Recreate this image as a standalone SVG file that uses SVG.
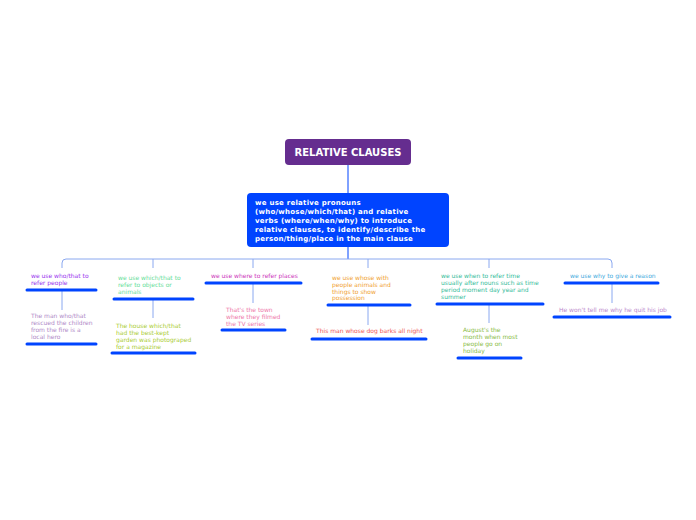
<svg xmlns="http://www.w3.org/2000/svg" width="696" height="520" viewBox="0 0 696 520">
<style>
text{font-family:"DejaVu Sans",Verdana,sans-serif;font-size:6px}
.u{stroke:#0044ff;stroke-width:3;stroke-linecap:round}
.c{fill:none;stroke:#8aa8f0;stroke-width:1}
</style>
<rect width="696" height="520" fill="#fff"/>
<g id="connectors">
<line x1="348" y1="165" x2="348" y2="193" stroke="#0044ff" stroke-width="1"/>
<line x1="348" y1="247" x2="348" y2="259" stroke="#0044ff" stroke-width="1"/>
<path class="c" d="M62 268V263Q62 259 66 259H608Q612 259 612 263V268M153 268V259M253 268V259M368 268V259M489 268V259"/>
<path class="c" d="M62 291V310M153 299V318M253 284V303M368 306V325M489 304V323M612 284V303"/>
</g>
<g id="root"><rect x="285" y="139" width="126" height="26" rx="4" fill="#652d8f"/><text x="348" y="156" text-anchor="middle" fill="#fff" style="font-size:10px;font-weight:bold">RELATIVE CLAUSES</text></g>
<g id="main"><rect x="247" y="193" width="202" height="54" rx="4" fill="#0044ff"/>
<text fill="#fff" style="font-weight:bold;font-size:7px;letter-spacing:0.25px"><tspan x="255" y="205">we use relative pronouns</tspan><tspan x="255" y="214">(who/whose/which/that) and relative</tspan><tspan x="255" y="223">verbs (where/when/why) to introduce</tspan><tspan x="255" y="232">relative clauses, to identify/describe the</tspan><tspan x="255" y="241">person/thing/place in the main clause</tspan></text></g>
<g id="n1"><text fill="#9933ee"><tspan x="31" y="278">we use who/that to</tspan><tspan x="31" y="285">refer people</tspan></text><line class="u" x1="27" y1="290" x2="96" y2="290"/></g>
<g id="n1a"><text fill="#b08ac8"><tspan x="31" y="318">The man who/that</tspan><tspan x="31" y="325">rescued the children</tspan><tspan x="31" y="332">from the fire is a</tspan><tspan x="31" y="339">local hero</tspan></text><line class="u" x1="27" y1="344" x2="96" y2="344"/></g>
<g id="n2"><text fill="#66dd99"><tspan x="118" y="280">we use which/that to</tspan><tspan x="118" y="287">refer to objects or</tspan><tspan x="118" y="294">animals</tspan></text><line class="u" x1="114" y1="299" x2="193" y2="299"/></g>
<g id="n2a"><text fill="#aacc33"><tspan x="116" y="328">The house which/that</tspan><tspan x="116" y="335">had the best-kept</tspan><tspan x="116" y="342">garden was photograped</tspan><tspan x="116" y="349">for a magazine</tspan></text><line class="u" x1="112" y1="353" x2="195" y2="353"/></g>
<g id="n3"><text x="211" y="278" fill="#cc33bb">we use where to refer places</text><line class="u" x1="206" y1="283" x2="301" y2="283"/></g>
<g id="n3a"><text fill="#ee77aa"><tspan x="226" y="312">That's the town</tspan><tspan x="226" y="319">where they filmed</tspan><tspan x="226" y="326">the TV series</tspan></text><line class="u" x1="222" y1="330" x2="285" y2="330"/></g>
<g id="n4"><text fill="#f0a030"><tspan x="332" y="280">we use whose with</tspan><tspan x="332" y="287">people animals and</tspan><tspan x="332" y="294">things to show</tspan><tspan x="332" y="300">possession</tspan></text><line class="u" x1="328" y1="305" x2="410" y2="305"/></g>
<g id="n4a"><text x="316" y="333" fill="#ee5555">This man whose dog barks all night</text><line class="u" x1="312" y1="339" x2="426" y2="339"/></g>
<g id="n5"><text fill="#33bb99"><tspan x="441" y="278">we use when to refer time</tspan><tspan x="441" y="285">usually after nouns such as time</tspan><tspan x="441" y="292">period moment day year and</tspan><tspan x="441" y="299">summer</tspan></text><line class="u" x1="437" y1="304" x2="543" y2="304"/></g>
<g id="n5a"><text fill="#88bb44"><tspan x="463" y="332">August's the</tspan><tspan x="463" y="339">month when most</tspan><tspan x="463" y="346">people go on</tspan><tspan x="463" y="353">holiday</tspan></text><line class="u" x1="458" y1="358" x2="521" y2="358"/></g>
<g id="n6"><text x="570" y="278" fill="#44aadd">we use why to give a reason</text><line class="u" x1="565" y1="283" x2="658" y2="283"/></g>
<g id="n6a"><text x="559" y="312" fill="#bb88cc">He won't tell me why he quit his job</text><line class="u" x1="554" y1="317" x2="670" y2="317"/></g>
</svg>
